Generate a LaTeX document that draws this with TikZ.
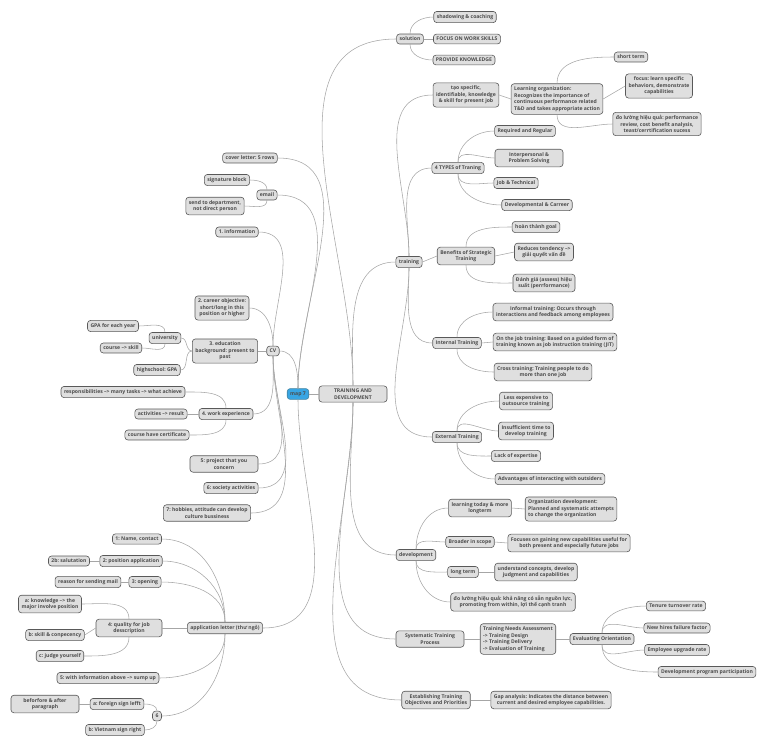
\documentclass[tikz,border=0pt]{standalone}
\usepackage{fontspec}
\setmainfont{Open Sans}
\frenchspacing
\begin{document}
\begin{tikzpicture}[x=1pt,y=-1pt,
 box/.style={draw=gray!70!black,fill=gray!25,rounded corners=3pt,inner xsep=3pt,inner ysep=3pt,line width=0.6pt,font=\fontsize{5.1}{6.5}\selectfont\bfseries,text=black!70,align=center},
 conn/.style={draw=gray!70,line width=0.55pt}]
\useasboundingbox (0,0) rectangle (768,748);
\newcommand\ru[2]{\draw[conn] (#1.north) to[out=90,in=180] (#2.west);}
\newcommand\rd[2]{\draw[conn] (#1.south) to[out=-90,in=180] (#2.west);}
\newcommand\rr[2]{\draw[conn] (#1.east) -- (#2.west);}
\newcommand\lu[2]{\draw[conn] (#1.north) to[out=90,in=0] (#2.east);}
\newcommand\ld[2]{\draw[conn] (#1.south) to[out=-90,in=0] (#2.east);}
\newcommand\lL[2]{\draw[conn] (#1.west) -- (#2.east);}
% centre
\node[box,minimum width=68pt] (ctr) at (353,394) {TRAINING AND\\DEVELOPMENT};
\node[box,fill=cyan!80!blue!80,draw=cyan!60!black,text=black!70] (map) at (298,394) {map 7};
\draw[conn] (map.east)--(ctr.west);
% right
\node[box] (sol) at (410,39) {solution};
\node[box] (sc) at (465,17) {shadowing \& coaching};
\node[box] (fw) at (467,39) {FOCUS ON WORK SKILLS};
\node[box] (pk) at (464,60) {PROVIDE KNOWLEDGE};
\ru{sol}{sc}\rr{sol}{fw}\rd{sol}{pk}
\node[box] (tr) at (409,262) {training};
\node[box] (tao) at (466,95) {tạo specific,\\identifiable, knowledge\\\& skill for present job};
\node[box,align=left] (lo) at (557,99) {Learning organization:\\Recognizes the importance of\\continuous performance related\\T\&D and takes appropriate action};
\node[box] (st) at (631,57) {short term};
\node[box] (fo) at (659,86) {focus: learn specific\\behaviors, demonstrate\\capabilities};
\node[box] (dl) at (657,124) {đo lường hiệu quả: performance\\review, cost benefit analysis,\\teast/cerrtification sucess};
\rr{tao}{lo}\ru{lo}{st}\rr{lo}{fo}\rd{lo}{dl}
\node[box] (t4) at (458,168) {4 TYPES of Traning};
\node[box] (rq) at (525,131) {Required and Regular};
\node[box,minimum width=68pt] (ip) at (529,158) {Interpersonal \&\\Problem Solving};
\node[box] (jt) at (516,183) {Job \& Technical};
\node[box] (dc) at (537,205) {Developmental \& Carreer};
\ru{t4}{rq}\ru{t4}{ip}\rd{t4}{jt}\rd{t4}{dc}
\node[box] (bs) at (466,256) {Benefits of Strategic\\Training};
\node[box] (rt) at (544,252) {Reduces tendency -->\\giải quyết vấn đề};
\node[box] (ht) at (536,227) {hoàn thành goal};
\node[box] (dg) at (544,283) {Đánh giá (assess) hiệu\\suất (perrformance)};
\ru{bs}{ht}\rr{bs}{rt}\rd{bs}{dg}
\node[box] (it) at (457,343) {Internal Training};
\node[box] (inf) at (553,312) {Informal training: Occurs through\\interactions and feedback among employees};
\node[box] (oj) at (555,342) {On the job training: Based on a guided form of\\training known as job instruction training (JIT)};
\node[box] (ct) at (543,372) {Cross training: Training people to do\\more than one job};
\ru{it}{inf}\rr{it}{oj}\rd{it}{ct}
\node[box] (et) at (457,437) {External Training};
\node[box] (le) at (526,401) {Less expensive to\\outsource training};
\node[box] (ins) at (526,431) {Insufficient time to\\develop training};
\node[box] (lx) at (516,456) {Lack of expertise};
\node[box] (ad) at (550,479) {Advantages of interacting with outsiders};
\ru{et}{le}\ru{et}{ins}\rd{et}{lx}\rd{et}{ad}
\ru{tr}{tao}\ru{tr}{t4}\rr{tr}{bs}\rd{tr}{it}\rd{tr}{et}
\node[box] (dv) at (416,555) {development};
\node[box] (lt) at (480,508) {learning today \& more\\longterm};
\node[box,align=left] (od) at (571,509) {Organization development:\\Planned and systematic attempts\\to change the organization};
\node[box] (bsc) at (470,542) {Broader in scope};
\node[box] (fc) at (569,543) {Focuses on gaining new capabilities useful for\\both present and especially future jobs};
\node[box] (ltm) at (463,572) {long term};
\node[box] (uc) at (536,572) {understand concepts, develop\\judgment and capabilities};
\node[box] (dq) at (513,602) {đo lường hiệu quả: khả năng có sẵn nguồn lực,\\promoting from within, lợi thế cạnh tranh};
\rr{lt}{od}\rr{bsc}{fc}\rr{ltm}{uc}
\ru{dv}{lt}\ru{dv}{bsc}\rd{dv}{ltm}\rd{dv}{dq}
\node[box,minimum width=68pt] (sy) at (430,639) {Systematic Training\\Process};
\node[box,align=left] (tn) at (518,639) {Training Needs Assessment\\-> Training Design\\-> Training Delivery\\-> Evaluation of Training};
\node[box] (eo) at (602,639) {Evaluating Orientation};
\node[box] (tu) at (676,606) {Tenure turnover rate};
\node[box] (nh) at (677,628) {New hires failure factor};
\node[box] (eu) at (677,650) {Employee upgrade rate};
\node[box] (dp) at (707,672) {Development program participation};
\rr{sy}{tn}\rr{tn}{eo}\ru{eo}{tu}\ru{eo}{nh}\rd{eo}{eu}\rd{eo}{dp}
\node[box] (es) at (436,700) {Establishing Training\\Objectives and Priorities};
\node[box] (ga) at (551,700) {Gap analysis: Indicates the distance between\\current and desired employee capabilities.};
\rr{es}{ga}
\ru{ctr}{sol}\ru{ctr}{tr}\rd{ctr}{dv}\rd{ctr}{sy}\rd{ctr}{es}
% left
\node[box] (cl) at (250,158) {cover letter: 5 rows};
\node[box] (em) at (267,195) {email};
\node[box] (sb) at (227,180) {signature block};
\node[box] (sd) at (215,206) {send to department,\\not direct person};
\lu{em}{sb}\ld{em}{sd}
\node[box] (cv) at (273,351) {CV};
\node[box] (i1) at (237,232) {1. information};
\node[box] (c2) at (222,308) {2. career objective:\\short/long in this\\position or higher};
\node[box] (c3) at (225,351) {3. education\\background: present to\\past};
\node[box] (un) at (165,338) {university};
\node[box] (gp) at (113,326) {GPA for each year};
\node[box] (cs) at (121,348) {course --> skill};
\node[box] (hs) at (157,370) {highschool: GPA};
\lu{un}{gp}\ld{un}{cs}\draw[conn] (c3.west) to[out=180,in=0] (un.east);\draw[conn] (c3.west) to[out=180,in=0] (hs.east);
\node[box] (c4) at (226,414) {4. work experience};
\node[box] (rs) at (123,392) {responsibilities --> many tasks --> what achieve};
\node[box] (ac) at (161,414) {activities --> result};
\node[box] (ch) at (157,435) {course have certificate};
\lu{c4}{rs}\lL{c4}{ac}\ld{c4}{ch}
\node[box,minimum width=68pt] (c5) at (224,464) {5: project that you\\concern};
\node[box] (c6) at (231,488) {6: society activities};
\node[box] (c7) at (207,513) {7: hobbies, attitude can develop\\culture bussiness};
\lu{cv}{i1}\lu{cv}{c2}\lL{cv}{c3}\ld{cv}{c4}\ld{cv}{c5}\ld{cv}{c6}\ld{cv}{c7}
\node[box] (al) at (225,628) {application letter (thư ngỏ)};
\node[box] (a1) at (137,539) {1: Name, contact};
\node[box] (a2) at (131,561) {2: position application};
\node[box] (a2b) at (69,561) {2b: salutation};
\node[box] (a3) at (145,582) {3: opening};
\node[box] (rf) at (88,582) {reason for sending mail};
\node[box,minimum width=66pt] (a4) at (129,628) {4: quality for job\\desscription};
\node[box] (ka) at (50,604) {a: knowledge --> the\\major involve position};
\node[box] (kb) at (55,635) {b: skill \& conpecency};
\node[box] (kc) at (60,656) {c: judge yourself};
\node[box] (a5) at (108,678) {5: with information above --> sump up};
\node[box] (a6) at (157,716) {6};
\node[box] (fa) at (117,704) {a: foreign sign lefft};
\node[box,minimum width=68pt] (bf) at (45,704) {beforfore \& after\\paragraph};
\node[box] (vb) at (115,730) {b: Vietnam sign right};
\lL{a2}{a2b}\lL{a3}{rf}\lu{a4}{ka}\lL{a4}{kb}\ld{a4}{kc}\lL{fa}{bf}\lu{a6}{fa}\ld{a6}{vb}
\lu{al}{a1}\lu{al}{a2}\lu{al}{a3}\lL{al}{a4}\ld{al}{a5}\ld{al}{a6}
\lu{map}{cl}\lu{map}{em}\lu{map}{cv}\ld{map}{al}
\end{tikzpicture}
\end{document}
